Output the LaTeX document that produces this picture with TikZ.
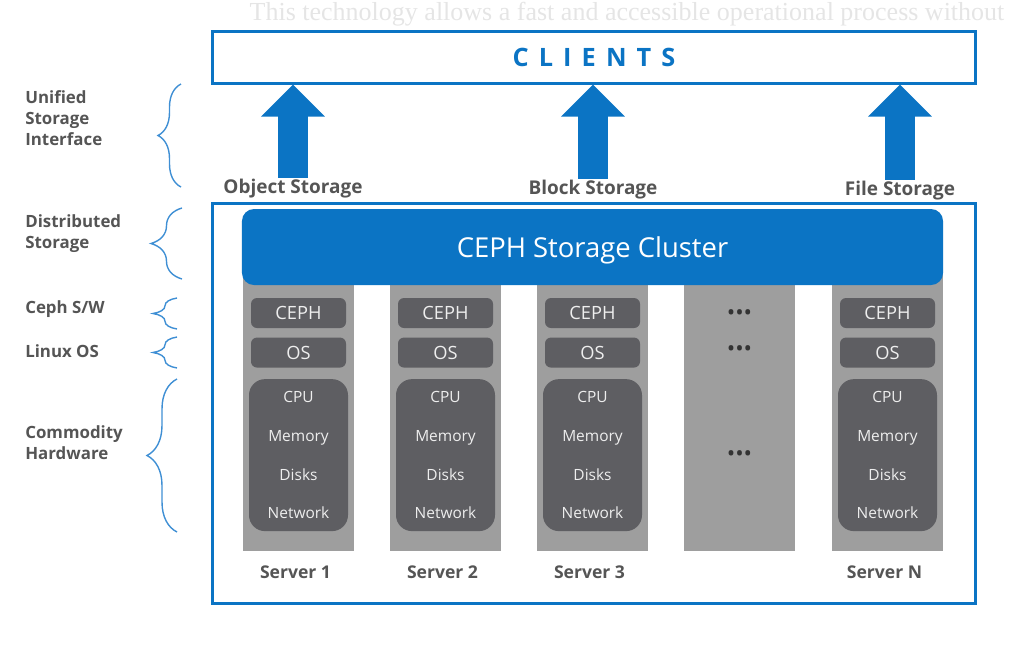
\documentclass[tikz,border=0pt]{standalone}
\usepackage{fontspec}
\setmainfont{Open Sans}
\newfontfamily\ghostfont{Liberation Serif}
\usetikzlibrary{positioning,arrows.meta,decorations.pathreplacing}
\definecolor{cephBlue}{HTML}{0B74C4}
\definecolor{braceBlue}{HTML}{3F8FD4}
\definecolor{colGrey}{HTML}{9E9E9E}
\definecolor{boxGrey}{HTML}{5E5E62}
\definecolor{boxText}{HTML}{EEEEEE}
\definecolor{lblGrey}{HTML}{555555}
\tikzset{
  x=0.25mm, y=-0.25mm,
  frame/.style={draw=cephBlue, line width=0.75mm, fill=white, minimum width=190.5mm, inner sep=0pt},
  cluster/.style={fill=cephBlue, rounded corners=3mm, text=white, font=\fontsize{19.5}{22}\selectfont,
                  text depth=0pt, minimum width=175.25mm, minimum height=19mm},
  srvcol/.style={fill=colGrey, minimum width=27.75mm, minimum height=72.75mm, inner sep=0pt},
  swbox/.style={fill=boxGrey, rounded corners=1.5mm, text=boxText, font=\fontsize{13}{15}\selectfont,
                minimum width=23.75mm, minimum height=7.5mm, inner sep=0pt},
  hwbox/.style={fill=boxGrey, rounded corners=4mm, text=boxText, align=center,
                font=\fontsize{11}{27.6}\selectfont, minimum width=24.75mm, minimum height=38mm, inner sep=0pt},
  dots/.style={font=\fontsize{16}{16}\selectfont, text=black!80, inner sep=0pt},
  srvlbl/.style={font=\fontsize{12.5}{14}\selectfont\bfseries, text=lblGrey, inner sep=1pt},
  storlbl/.style={font=\fontsize{13.5}{15}\selectfont\bfseries, text=lblGrey, inner sep=1pt},
  layer/.style={anchor=west, align=left, font=\fontsize{12}{15}\selectfont\bfseries, text=lblGrey, inner sep=0pt},
  brc/.style={draw=braceBlue, line width=0.35mm, decorate, decoration={brace, amplitude=#1}},
  up/.style={draw=cephBlue, line width=7.5mm, -{Triangle[width=15.5mm, length=8mm]}},
  ghost/.style={font=\ghostfont\fontsize{18.5}{21}\selectfont, text=black!10, inner sep=0pt},
}
\begin{document}
\begin{tikzpicture}
\useasboundingbox (0,0) rectangle (1036,644);
\node[ghost, anchor=north] (ghost) at (627,2) {This technology allows a fast and accessible operational process without};

% clients and outer frame
\node[frame, minimum height=13mm, text=cephBlue,
      font=\fontsize{18}{20}\selectfont\bfseries\addfontfeature{LetterSpace=40}] (clients) at (594,57) {CLIENTS};
\node[frame, minimum height=100mm] (rack) at (594,403) {};

% servers
\foreach \x/\i/\name in {298.5/1/Server 1, 445.5/2/Server 2, 592.5/3/Server 3, 887.5/4/Server N} {
  \node[srvcol] (col\i) at (\x,405.5) {};
  \node[swbox] (ceph\i) at (\x,313) {CEPH};
  \node[swbox, below=2.25mm of ceph\i] (os\i) {OS};
  \node[hwbox, below=2.75mm of os\i] (hw\i) {CPU\\Memory\\Disks\\Network};
  \node[srvlbl, below=3.25mm of col\i, xshift=-0.75mm] (srv\i) {\name};
}
\node[srvcol] (colx) at (739.5,405.5) {};
\node[dots] (dotsa) at (739.5,315) {•••};
\node[dots] (dotsb) at (739.5,351) {•••};
\node[dots] (dotsc) at (739.5,456) {•••};

\node[cluster] (cluster) at (592.5,247) {CEPH Storage Cluster};

% interfaces
\node[storlbl] (obj) at (293,189) {Object Storage};
\node[storlbl] (blk) at (593,190) {Block Storage};
\node[storlbl] (fil) at (900,191) {File Storage};
\foreach \s in {obj,blk,fil}
  \draw[up] (\s.north) -- (\s.north |- clients.south);

% layer legend
\node[layer] (usi) at (25,118) {Unified\\Storage\\Interface};
\node[layer] (dst) at (25,234) {Distributed\\Storage};
\node[layer] (csw) at (25,309) {Ceph S/W};
\node[layer] (los) at (25,351) {Linux OS};
\node[layer] (chw) at (25,442.5) {Commodity\\Hardware};
\draw[brc=5.75mm] (181,187) -- (181,84);
\draw[brc=7.75mm] (182,279) -- (182,208);
\draw[brc=6mm] (177,329) -- (177,298);
\draw[brc=6mm] (177,368) -- (177,337);
\draw[brc=7.5mm] (177,532) -- (177,379);
\end{tikzpicture}
\end{document}
